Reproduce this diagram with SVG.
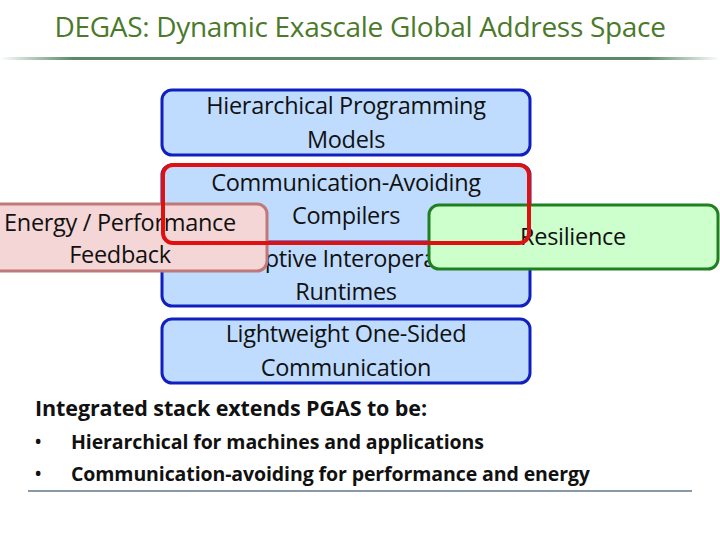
<svg xmlns="http://www.w3.org/2000/svg" width="720" height="540" viewBox="0 0 720 540">
<defs>
<style>
text{font-family:"Open Sans","Noto Sans",sans-serif;fill:#111}
.t{font-size:23.5px;text-anchor:middle;letter-spacing:-0.3px}
.blue{fill:#bfdcff;stroke:#1020c0;stroke-width:3}
.b{font-size:19.5px;font-weight:bold;letter-spacing:-0.1px}
</style>
<linearGradient id="g" x1="0" x2="1"><stop offset="0" stop-color="#fff"/><stop offset="0.1" stop-color="#5a8a6a"/><stop offset="0.9" stop-color="#5a8a6a"/><stop offset="1" stop-color="#fff"/></linearGradient>
</defs>
<rect width="720" height="540" fill="#fff"/>
<text x="360" y="37" font-size="28" text-anchor="middle" style="fill:#4a7a2a;letter-spacing:-0.3px">DEGAS: Dynamic Exascale Global Address Space</text>
<rect x="0" y="57" width="720" height="3" fill="url(#g)"/>
<g id="hpm"><rect class="blue" x="162" y="90" width="368" height="65" rx="10"/><text class="t" x="346" y="114">Hierarchical Programming</text><text class="t" x="346" y="148">Models</text></g>
<g id="cac"><rect class="blue" x="162" y="165" width="368" height="78" rx="10"/><text class="t" x="346" y="191">Communication-Avoiding</text><text class="t" x="346" y="224">Compilers</text></g>
<g id="air"><rect class="blue" x="162" y="242" width="368" height="64" rx="10"/><text class="t" x="346" y="267">Adaptive Interoperable</text><text class="t" x="346" y="300">Runtimes</text></g>
<g id="los"><rect class="blue" x="162" y="319" width="368" height="64" rx="10"/><text class="t" x="346" y="342">Lightweight One-Sided</text><text class="t" x="346" y="376">Communication</text></g>
<g id="epf"><rect x="-10" y="204" width="277" height="67" rx="10" fill="#f4d6d6" stroke="#c07878" stroke-width="3"/><text class="t" x="120" y="231">Energy / Performance</text><text class="t" x="120" y="263">Feedback</text></g>
<g id="res"><rect x="429" y="205" width="289" height="64" rx="10" fill="#ccffcc" stroke="#208020" stroke-width="3"/><text class="t" x="573" y="245">Resilience</text></g>
<g id="hl"><rect x="163" y="165" width="366" height="78" rx="10" fill="none" stroke="#e01010" stroke-width="4"/></g>
<g id="connectors"/>
<text x="35" y="416" font-size="21.5" font-weight="bold" style="letter-spacing:-0.1px">Integrated stack extends PGAS to be:</text>
<text x="34" y="449" font-size="22">•</text><text class="b" x="71" y="449">Hierarchical for machines and applications</text>
<text x="34" y="481" font-size="22">•</text><text class="b" x="71" y="481">Communication-avoiding for performance and energy</text>
<rect x="28" y="490" width="664" height="2" fill="#8899aa"/>
</svg>
